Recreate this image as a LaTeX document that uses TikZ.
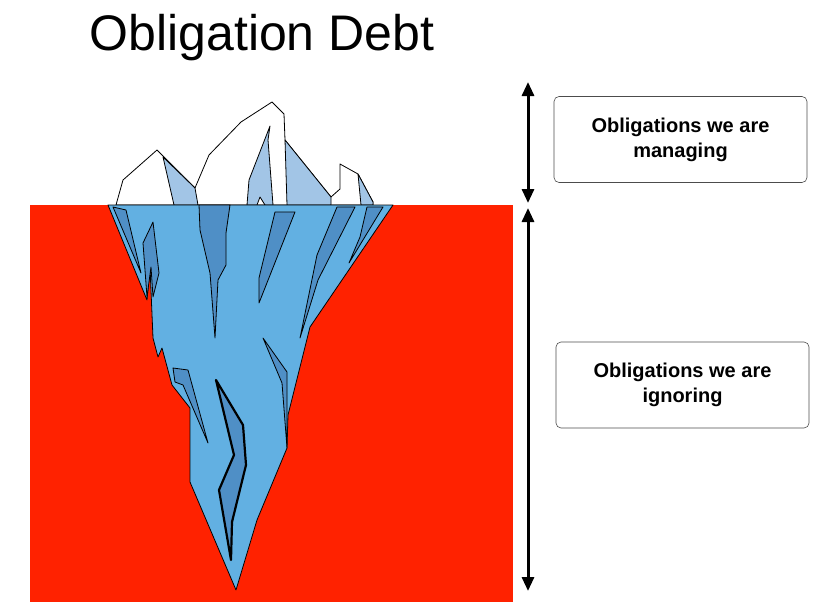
\documentclass[tikz,border=0pt]{standalone}
\usepackage{fontspec}
\setmainfont{Liberation Sans}
\usetikzlibrary{arrows.meta}
\definecolor{sea}{HTML}{FF2200}
\definecolor{ice}{HTML}{62B0E2}
\definecolor{dark}{HTML}{4F8FC6}
\definecolor{light}{HTML}{A2C5E6}
\tikzset{edge/.style={draw=black,line width=0.8pt,line join=round},
 dk/.style={edge,fill=dark}, lt/.style={edge,fill=light},
 lbl/.style={draw=black!70,rounded corners=5pt,minimum width=253pt,minimum height=86pt,align=center,font=\bfseries\fontsize{20}{25}\selectfont,line width=0.6pt},
 arr/.style={line width=3pt,{Triangle[length=14pt,width=12pt]}-{Triangle[length=14pt,width=12pt]}}}
\begin{document}
\begin{tikzpicture}[x=1pt,y=-1pt]
\useasboundingbox (0,0) rectangle (824,602);
\fill[sea] (30,205) rectangle (513,602);
\node (title) at (262,38) {\fontsize{50}{55}\selectfont Obligation Debt};
% above water
\draw[edge,fill=white] (116,205)--(123,180)--(157,150)--(195,188)--(209,155)--(241,122)--(272,102)--(284,114)--(285,140)--(331,197)--(340,189)--(340,164)--(358,174)--(373,202)--(373,205)--cycle;
\draw[lt] (163,157)--(195,188)--(198,205)--(174,205)--cycle;
\draw[lt] (247,205)--(249,180)--(270,126)--(268,140)--(273,205)--(265,205)--(260,197)--(257,205)--cycle;
\draw[lt] (285,140)--(331,197)--(331,205)--(287,205)--cycle;
\draw[lt] (358,174)--(373,202)--(373,205)--(361,205)--cycle;
% underwater
\draw[edge,fill=ice] (108,205)--(393,205)--(310,327)--(288,415)--(287,448)--(257,520)--(236,590)--(190,482)--(190,408)--(172,385)--(162,348)--(158,357)--(153,338)--(150,267)--(147,300)--cycle;
\draw[dk] (113,207)--(126,210)--(141,273)--cycle;
\draw[dk] (143,243)--(153,222)--(159,273)--(153,297)--(151,267)--(147,297)--cycle;
\draw[dk] (199,205)--(230,205)--(226,233)--(226,265)--(218,280)--(215,338)--(210,273)--(200,230)--cycle;
\draw[dk] (275,212)--(295,212)--(259,303)--(259,278)--cycle;
\draw[dk] (337,207)--(355,207)--(318,280)--(300,338)--(317,255)--cycle;
\draw[dk] (367,207)--(383,207)--(349,263)--(360,237)--cycle;
\draw[dk] (173,368)--(188,370)--(208,443)--(183,385)--(175,382)--cycle;
\draw[dk] (263,338)--(287,372)--(287,448)--(282,383)--cycle;
\draw[dk,line width=2.2pt] (216,380)--(243,425)--(246,465)--(232,522)--(231,560)--(219,490)--(234,455)--cycle;
% labels
\node[lbl] (top) at (680.5,139.5) {Obligations we are\\managing};
\node[lbl] (bot) at (682.5,385) {Obligations we are\\ignoring};
\coordinate (a1) at (528,82); \coordinate (a2) at (528,203);
\coordinate (b1) at (528,208); \coordinate (b2) at (528,591);
\draw[arr] (a1)--(a2);
\draw[arr] (b1)--(b2);
\end{tikzpicture}
\end{document}
